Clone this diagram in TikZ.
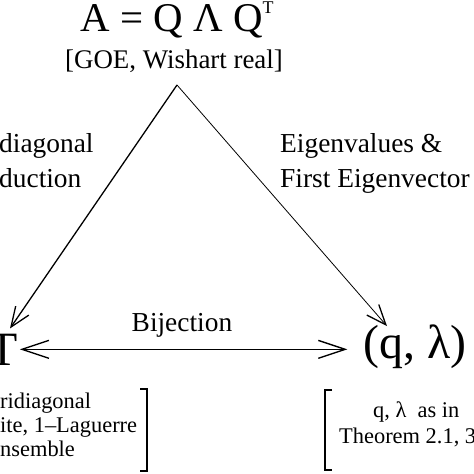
\documentclass[tikz,border=0pt]{standalone}
\usepackage{fontspec}
\setmainfont{Liberation Serif}
\usetikzlibrary{arrows.meta,positioning,calc}

\tikzset{
  side text/.style={inner sep=0pt, font=\fontsize{27.5}{35}\selectfont, align=left},
  note text/.style={inner sep=0pt, font=\fontsize{22.5}{24}\selectfont, align=left},
  big sym/.style={inner sep=0pt, font=\fontsize{48}{50}\selectfont},
  map arrow/.style={-{Straight Barb[length=20pt,width=16pt,line width=1.3pt]}},
  bij arrow/.style={{Straight Barb[length=27pt,width=18pt,line width=1.4pt]}-{Straight Barb[length=27pt,width=18pt,line width=1.4pt]}, line width=1pt},
  bracket/.style={line width=2.5pt}
}

\begin{document}
\begin{tikzpicture}[x=1bp,y=-1bp]
    % the frame
    \useasboundingbox (0,0) rectangle (474,474);
    \clip (0,0) rectangle (474,474);

    % the matrix on top
    \node[inner sep=0pt, font=\fontsize{41}{42}\selectfont, anchor=base] (A) at (177,32)
        {A = Q Λ Q\raisebox{19pt}{\fontsize{18}{18}\selectfont T}};
    \node[inner sep=0pt, font=\fontsize{27}{28}\selectfont, anchor=base] (ens) at (174,69) {[GOE, Wishart real]};
    \coordinate (apex) at (177,85);

    % the two ends
    \node[big sym, anchor=base] (T) at (3,365) {T};
    \node[big sym, anchor=base] (ql) at (415,358) {(q, λ)};

    % the maps
    \draw[map arrow, line width=1.3pt] (apex) -- ([shift={(7,-5)}]T.north);
    \draw[map arrow, line width=0.8pt] (apex) -- ([shift={(-28,2)}]ql.north);
    \draw[bij arrow, shorten <=2pt, shorten >=16pt] (T.east) -- (T.east -| ql.west)
        node[pos=0.475, above=12pt, side text] (bij) {Bijection};

    % labels of the maps
    \node[side text, anchor=north west] (red) at (-1,133) {diagonal\\duction};
    \node[side text, anchor=north west] (eig) at (280,133) {Eigenvalues \&\\First Eigenvector};

    % the notes in brackets
    \node[note text, anchor=north west] (tri) at (0,393) {ridiagonal\\ite, 1–Laguerre\\nsemble};
    \draw[bracket] (140,389) -| (147,471) -- (140,471);

    \node[note text, anchor=base west] (as) at (373,417) {q, λ\ \ as in};
    \node[note text, anchor=base west] (thm) at (339,443) {Theorem 2.1, 3};
    \draw[bracket] (332,390) -| (325,470) -- (332,470);
\end{tikzpicture}
\end{document}
